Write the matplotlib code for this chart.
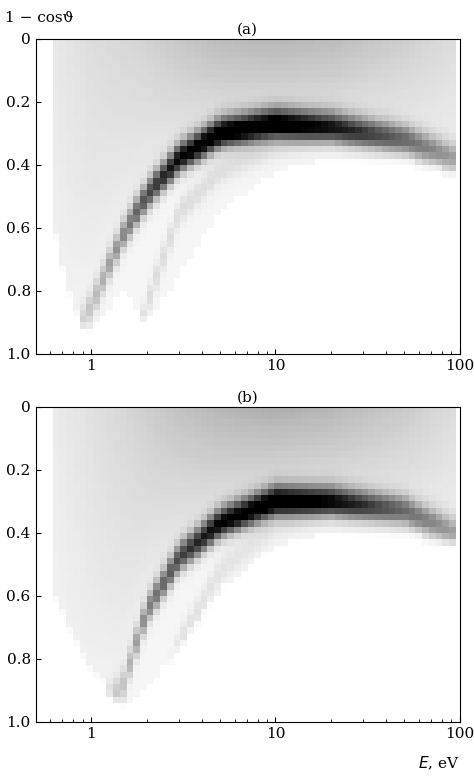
import numpy as np
import matplotlib
matplotlib.use("Agg")
import matplotlib.pyplot as plt

# values (ridge positions / intensities per energy node)
E_nodes = [0.6, 0.8, 1.0, 1.5, 2.0, 3.0, 5.0, 10.0, 20.0, 50.0, 95.0]
a_r1_y = [0.98, 0.95, 0.85, 0.62, 0.50, 0.38, 0.30, 0.27, 0.28, 0.32, 0.38]
a_r1_I = [0.05, 0.12, 0.25, 0.45, 0.65, 0.85, 0.97, 0.97, 0.75, 0.50, 0.35]
a_r2_y = [1.2, 1.2, 1.2, 1.1, 0.85, 0.55, 0.42, 0.34, 0.31, 0.33, 0.38]
a_r2_I = [0.0, 0.0, 0.0, 0.05, 0.15, 0.15, 0.14, 0.12, 0.08, 0.04, 0.0]
a_low = [0.55, 0.85, 0.93, 0.80, 0.90, 0.75, 0.55, 0.42, 0.38, 0.38, 0.42]
a_bg = [0.08, 0.12, 0.15, 0.18, 0.2, 0.25, 0.3, 0.32, 0.3, 0.22, 0.15]

b_r1_y = [1.1, 1.05, 1.0, 0.88, 0.65, 0.48, 0.37, 0.30, 0.30, 0.33, 0.40]
b_r1_I = [0.0, 0.05, 0.10, 0.25, 0.45, 0.65, 0.85, 0.97, 0.80, 0.50, 0.35]
b_r2_y = [1.2, 1.2, 1.2, 1.2, 1.1, 0.75, 0.52, 0.38, 0.33, 0.34, 0.40]
b_r2_I = [0.0, 0.0, 0.0, 0.0, 0.05, 0.12, 0.12, 0.10, 0.06, 0.03, 0.0]
b_low = [0.55, 0.72, 0.82, 0.95, 0.90, 0.75, 0.58, 0.44, 0.40, 0.40, 0.43]
b_bg = [0.06, 0.10, 0.13, 0.18, 0.22, 0.27, 0.32, 0.35, 0.32, 0.24, 0.15]

x_ticks = [1, 10, 100]
y_ticks = [0, 0.2, 0.4, 0.6, 0.8, 1.0]

Ee = np.logspace(np.log10(0.62), np.log10(95), 61)
Ye = np.linspace(0, 1, 51)
Ec = np.sqrt(Ee[1:] * Ee[:-1])
Yc = 0.5 * (Ye[1:] + Ye[:-1])
lg = np.log10(E_nodes)

def build(r1y, r1I, r2y, r2I, low, bg):
    L = np.log10(Ec)
    f = lambda v: np.interp(L, lg, v)
    R1y, R1I, R2y, R2I, LOW, BG = map(f, (r1y, r1I, r2y, r2I, low, bg))
    Y = Yc[:, None]
    Z = BG * np.clip(1 - Y / (R1y + 0.05), 0, 1) ** 0.7
    Z = Z + 0.08 * (Y < LOW)
    Z = Z + R1I * np.exp(-((Y - R1y) / 0.05) ** 2)
    Z = Z + R2I * np.exp(-((Y - R2y) / 0.045) ** 2)
    Z = np.where(Y > LOW + 0.02, 0, Z)
    return np.clip(Z, 0, 1)

fig = plt.figure(figsize=(4.74, 7.78), dpi=100)
axes = [fig.add_axes([0.075, 0.545, 0.895, 0.405]),
        fig.add_axes([0.075, 0.072, 0.895, 0.405])]
data = [build(a_r1_y, a_r1_I, a_r2_y, a_r2_I, a_low, a_bg),
        build(b_r1_y, b_r1_I, b_r2_y, b_r2_I, b_low, b_bg)]
for ax, Z, lab in zip(axes, data, ["(a)", "(b)"]):
    ax.pcolormesh(Ee, Ye, Z, cmap="Greys", vmin=0, vmax=1, shading="flat")
    ax.set_xscale("log")
    ax.set_xlim(0.5, 100)
    ax.set_ylim(1.0, 0)
    ax.set_xticks(x_ticks)
    ax.set_xticklabels(["1", "10", "100"])
    ax.set_yticks(y_ticks)
    ax.set_yticklabels(["0", "0.2", "0.4", "0.6", "0.8", "1.0"])
    ax.tick_params(direction="in", labelsize=11, which="both", top=False, right=False)
    ax.set_title(lab, fontsize=11, pad=4, family="DejaVu Serif")
    for t in ax.get_xticklabels() + ax.get_yticklabels():
        t.set_family("DejaVu Serif")
fig.text(0.01, 0.972, "1 − cosϑ", fontsize=11, family="DejaVu Serif")
fig.text(0.97, 0.012, "$E$, eV", fontsize=11, family="DejaVu Serif", ha="right")
fig.savefig("out.png", dpi=100)
